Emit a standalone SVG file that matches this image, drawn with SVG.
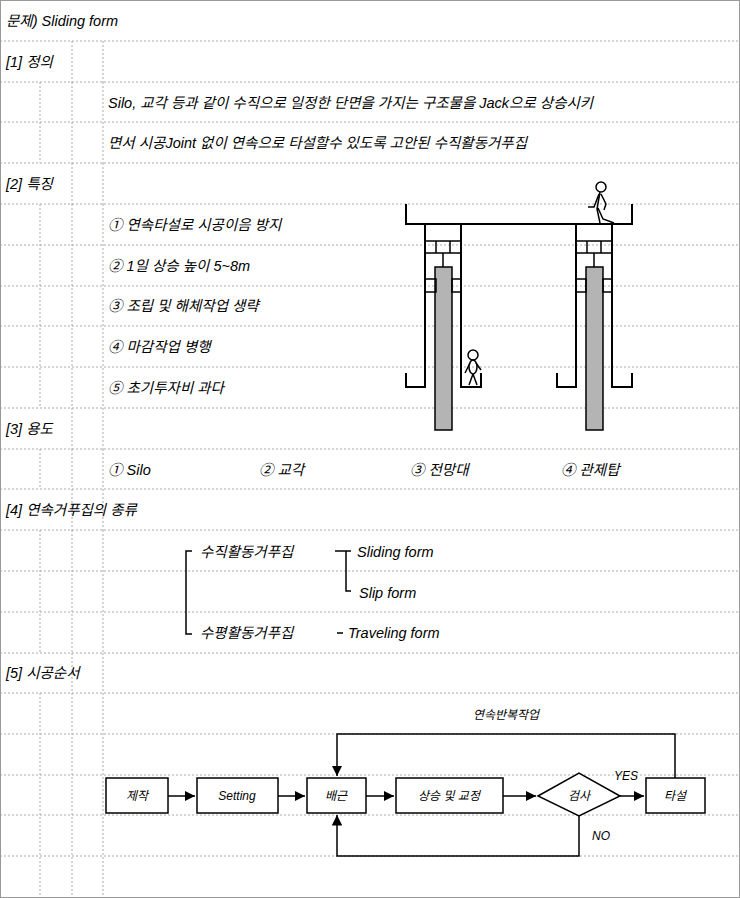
<svg xmlns="http://www.w3.org/2000/svg" width="740" height="898" viewBox="0 0 740 898">
<style>
.g{stroke:#aaa;stroke-width:1;stroke-dasharray:2 2;fill:none}
text{font-family:"Liberation Sans","Noto Sans CJK KR",sans-serif;font-size:14.5px;font-style:italic;fill:#000}
.s{font-size:12px}
.k{stroke:#000;stroke-width:2;fill:none}
.b{fill:#fff;stroke:#000;stroke-width:1.5}
.c{stroke:#000;stroke-width:1.5;fill:none}
.col{fill:#b4b4b4;stroke:#000;stroke-width:1.5}
</style>
<defs><marker id="a" viewBox="0 0 10 10" refX="10" refY="5" markerWidth="7" markerHeight="7" orient="auto"><path d="M0,0L10,5L0,10z" fill="#000"/></marker></defs>
<rect x="0" y="0" width="740" height="898" fill="#fff"/>
<g id="grid">
<path class="g" d="M0 41H740M0 82H740M0 122H740M0 163H740M0 204H740M0 245H740M0 286H740M0 326H740M0 367H740M0 408H740M0 449H740M0 489H740M0 530H740M0 571H740M0 612H740M0 653H740M0 693H740M0 734H740M0 775H740M0 815H740M0 856H740"/>
<path class="g" d="M72 41V82M103 41V82M40 82V163M72 82V163M103 82V163M72 163V204M103 163V204M40 204V408M72 204V408M103 204V408M72 408V449M103 408V449M40 449V489M72 449V489M103 449V489M72 489V530M103 489V530M40 530V653M72 530V653M103 530V653M72 653V693M103 653V693M40 693V897M72 693V897M103 693V897"/>
<rect x="0.5" y="0.5" width="739" height="897" fill="none" stroke="#999"/>
</g>
<g id="texts">
<text x="6" y="26">문제) Sliding form</text>
<text x="6" y="67">[1] 정의</text>
<text x="108" y="108">Silo, 교각 등과 같이 수직으로 일정한 단면을 가지는 구조물을 Jack으로 상승시키</text>
<text x="108" y="148">면서 시공Joint 없이 연속으로 타설할수 있도록 고안된 수직활동거푸집</text>
<text x="6" y="189">[2] 특징</text>
<text x="108" y="230">① 연속타설로 시공이음 방지</text>
<text x="108" y="271">② 1일 상승 높이 5~8m</text>
<text x="108" y="311">③ 조립 및 해체작업 생략</text>
<text x="108" y="352">④ 마감작업 병행</text>
<text x="108" y="393">⑤ 초기투자비 과다</text>
<text x="6" y="434">[3] 용도</text>
<text x="108" y="475">① Silo</text>
<text x="259" y="475">② 교각</text>
<text x="410" y="475">③ 전망대</text>
<text x="561" y="475">④ 관제탑</text>
<text x="6" y="515">[4] 연속거푸집의 종류</text>
<text x="6" y="678">[5] 시공순서</text>
</g>
<g id="figure">
<path class="k" d="M406 204V224H632V204"/>
<path class="k" d="M425 224V387H406V373M461 224V387H481V373M576 224V387H557V373M612 224V387H632V373"/>
<rect class="col" x="435" y="267" width="17" height="163"/>
<rect class="col" x="586" y="267" width="17" height="163"/>
<path class="c" d="M425 241H461M425 253H461M436 241V253M450 241V253M443 253V267M425 279H436V292H425M461 279H452V292H461"/>
<path class="c" d="M576 241H612M576 253H612M587 241V253M601 241V253M594 253V267M576 279H586V292H576M612 279H603V292H612"/>
<g class="c" stroke-width="1.2">
<circle cx="601" cy="187" r="5" fill="#fff"/>
<path d="M600 192L597 209L600 223M598 208L603 219L614 223M599 194L594 207H588M601 194L606 204L604 210"/>
<circle cx="473" cy="355" r="5" fill="#fff"/>
<path d="M473 374L469 385M473 374L477 385M470 363L465 373M476 363L481 370"/>
<ellipse cx="473" cy="367" rx="4" ry="7" fill="none"/>
</g>
</g>
<g id="tree">
<path class="c" stroke-width="1.2" d="M192 551H186V634H192M335 551H351M346 551V591H351M337 633H343"/>
<text x="200" y="557">수직활동거푸집</text>
<text x="357" y="557">Sliding form</text>
<text x="359" y="598">Slip form</text>
<text x="200" y="638">수평활동거푸집</text>
<text x="348" y="638">Traveling form</text>
</g>
<g id="connectors">
<path class="c" d="M168 796H195" marker-end="url(#a)"/>
<path class="c" d="M278 796H305" marker-end="url(#a)"/>
<path class="c" d="M366 796H394" marker-end="url(#a)"/>
<path class="c" d="M503 796H536" marker-end="url(#a)"/>
<path class="c" d="M620 796H644" marker-end="url(#a)"/>
<path class="c" d="M675 778V734H337V776" marker-end="url(#a)"/>
<path class="c" d="M579 816V856H337V815" marker-end="url(#a)"/>
</g>
<g id="n1"><rect class="b" x="106" y="778" width="62" height="35"/><text class="s" x="137" y="800" text-anchor="middle">제작</text></g>
<g id="n2"><rect class="b" x="197" y="778" width="81" height="35"/><text class="s" x="237" y="800" text-anchor="middle">Setting</text></g>
<g id="n3"><rect class="b" x="307" y="778" width="59" height="35"/><text class="s" x="336" y="800" text-anchor="middle">배근</text></g>
<g id="n4"><rect class="b" x="396" y="778" width="107" height="35"/><text class="s" x="449" y="800" text-anchor="middle">상승 및 교정</text></g>
<g id="n5"><path class="b" d="M538 796L579 773L620 796L579 816Z"/><text class="s" x="579" y="800" text-anchor="middle">검사</text></g>
<g id="n6"><rect class="b" x="646" y="778" width="59" height="35"/><text class="s" x="675" y="800" text-anchor="middle">타설</text></g>
<g id="labels">
<text class="s" x="506" y="719" text-anchor="middle">연속반복작업</text>
<text class="s" x="614" y="780">YES</text>
<text class="s" x="592" y="840">NO</text>
</g>
</svg>
